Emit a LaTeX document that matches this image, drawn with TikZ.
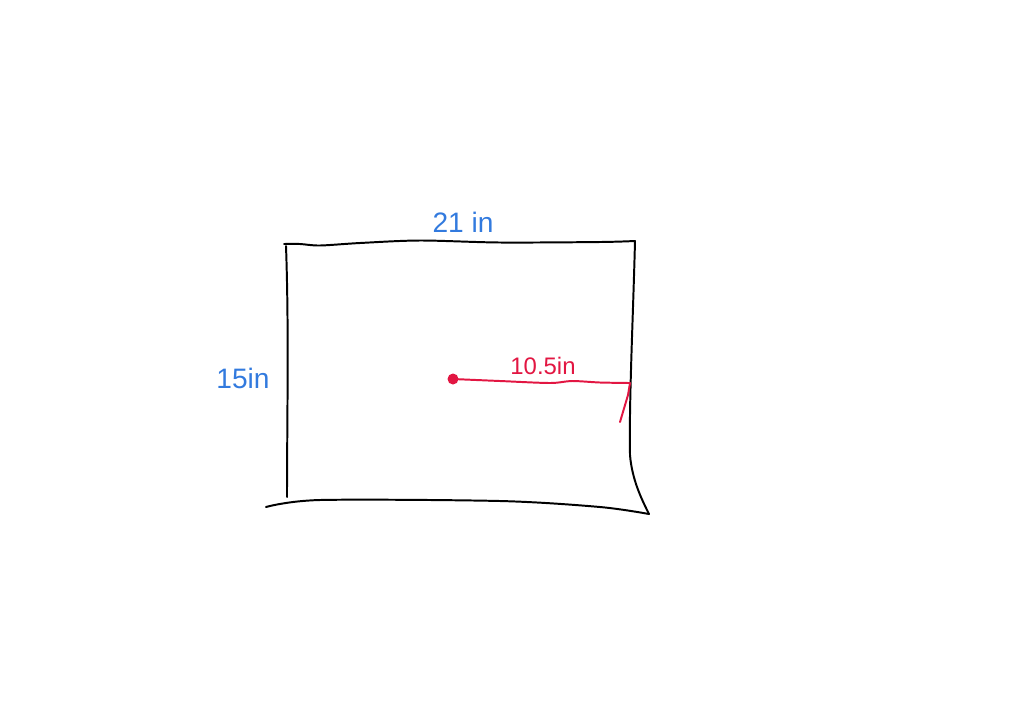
\documentclass[tikz,border=0pt]{standalone}
\usepackage{fontspec}
\setsansfont{Liberation Sans}
\definecolor{penblue}{RGB}{50,122,222}
\definecolor{penred}{RGB}{226,22,66}

\begin{document}
\begin{tikzpicture}[x=0.025cm, y=-0.025cm, line cap=round, line join=round,
    nodes={draw=none, inner sep=0pt, font=\sffamily\fontsize{20}{24}\selectfont},
    inkline/.style={line width=1.4pt, black},
    redline/.style={line width=1.4pt, penred}]
        \useasboundingbox (0,0) rectangle (1024,712);
        % corners of the sheet
        \coordinate (topleft) at (284,244);
        \coordinate (topright) at (635,241);
        \coordinate (botleft) at (266,507);
        \coordinate (botright) at (649,514);
        \draw[inkline] plot[smooth] coordinates {(topleft) (300,244) (320,245.5) (360,243) (420,240.5) (500,242.5) (600,242) (topright)};
        \draw[inkline] (286,246) .. controls (289,330) and (287,420) .. (287,497);
        \draw[inkline] plot[smooth] coordinates {(botleft) (320,500) (500,501) (600,507) (botright)};
        \draw[inkline] (topright) .. controls (633,320) and (629,400) .. (630,455) .. controls (632,480) and (642,500) .. (botright);

        % radius
        \coordinate (centre) at (453,379);
        \coordinate (edge) at (630,383);
        \fill[penred] (centre) circle (5.5);
        \draw[redline] plot[smooth] coordinates {(centre) (500,381) (550,383) (572,381) (600,382.5) (edge)};
        \draw[redline] (edge) -- (628,395) -- (620,422);

        \node[text=penblue] (width) at (463,222) {21 in};
        \node[text=penblue] (height) at (243,378) {15in};
        \node[text=penred, font=\sffamily\fontsize{17}{20}\selectfont] (radius) at (543,366) {10.5in};
    \end{tikzpicture}
\end{document}
